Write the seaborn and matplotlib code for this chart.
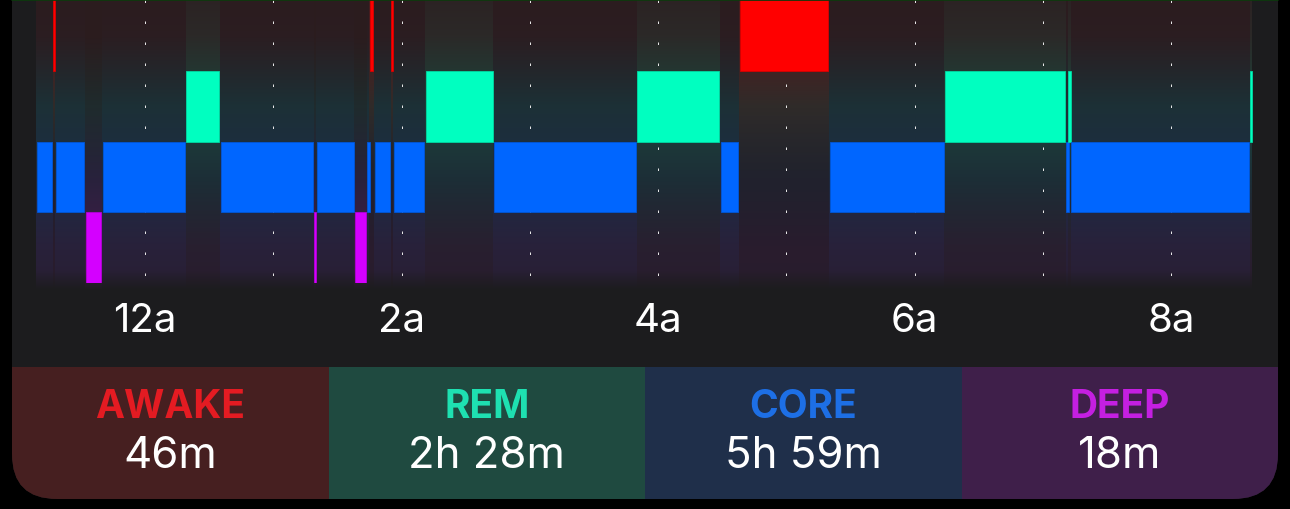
import numpy as np
import pandas as pd
import matplotlib
matplotlib.use("Agg")
import matplotlib.pyplot as plt
import seaborn as sns
from matplotlib.patches import FancyBboxPatch, Rectangle
from matplotlib.colors import to_rgb

# ---------------- data ----------------
stages = ["Awake", "REM", "Core", "Deep"]
stage_colors = ["#ff0000", "#00ffc0", "#0066ff", "#d400ff"]

seg_stage = ["Core", "Awake", "Core", "Deep", "Core", "REM", "Core", "Deep", "Core",
             "Deep", "Core", "Awake", "Core", "Awake", "Core", "REM", "Core", "REM",
             "Core", "Awake", "Core", "REM", "Core", "REM", "Core", "REM"]
seg_start = ["23:09", "23:17", "23:18", "23:32", "23:40", "00:19", "00:35", "01:19", "01:20",
             "01:38", "01:44", "01:45", "01:47", "01:55", "01:56", "02:11", "02:43", "03:50",
             "04:29", "04:38", "05:20", "06:14", "07:11", "07:12", "07:13", "08:37"]
seg_end = ["23:17", "23:18", "23:32", "23:40", "00:19", "00:35", "01:19", "01:20", "01:38",
           "01:44", "01:45", "01:47", "01:55", "01:56", "02:11", "02:43", "03:50", "04:29",
           "04:38", "05:20", "06:14", "07:11", "07:12", "07:13", "08:37", "08:38"]

grid_hours = [0, 1, 2, 3, 4, 5, 6, 7, 8]
tick_hours = [0, 2, 4, 6, 8]
tick_labels = ["12a", "2a", "4a", "6a", "8a"]

summary_names = ["AWAKE", "REM", "CORE", "DEEP"]
summary_values = ["46m", "2h 28m", "5h 59m", "18m"]
summary_text_colors = ["#e41b22", "#1ee0b1", "#1d6fe5", "#c41fe1"]
summary_box_colors = ["#461f20", "#1f4a40", "#1f2f4a", "#3f1f4a"]


def to_min(s):
    h, m = map(int, s.split(":"))
    if h >= 12:
        h -= 24
    return h * 60 + m


df = pd.DataFrame({"stage": seg_stage,
                   "start": [to_min(s) for s in seg_start],
                   "end": [to_min(s) for s in seg_end]})
df["lane"] = df["stage"].map({s: i for i, s in enumerate(stages)})

# ---------------- style ----------------
sns.set_theme(style="dark", rc={"axes.facecolor": "none", "figure.facecolor": "black"})
plt.rcParams["font.family"] = ["Inter", "DejaVu Sans"]

W_PX, H_PX = 1290, 509
X0, X1 = 12, 1278
LANE_PX = 70.75
CHART_H = 4 * LANE_PX
PX_PER_MIN = 128.25 / 60.0
ZERO_PX = 145.0
XMIN = (X0 - ZERO_PX) / PX_PER_MIN
XMAX = (X1 - ZERO_PX) / PX_PER_MIN

fig = plt.figure(figsize=(W_PX / 100, H_PX / 100), dpi=100, facecolor="black")

# background / panel axes in pixel coordinates
bg = fig.add_axes([0, 0, 1, 1])
bg.set_xlim(0, W_PX)
bg.set_ylim(H_PX, 0)
bg.axis("off")

panel = FancyBboxPatch((X0, -100), X1 - X0, 599, boxstyle="round,pad=0,rounding_size=45",
                       fc="#1c1c1e", ec="none", zorder=0)
bg.add_patch(panel)

box_w = (X1 - X0) / 4
for i in range(4):
    r = Rectangle((X0 + i * box_w, 367), box_w, 140, fc=summary_box_colors[i], ec="none", zorder=1)
    bg.add_patch(r)
    r.set_clip_path(panel)
    cx = X0 + (i + 0.5) * box_w
    bg.text(cx, 417.5, summary_names[i], color=summary_text_colors[i], fontsize=28,
            fontweight="bold", ha="center", va="baseline", zorder=2)
    bg.text(cx, 468.5, summary_values[i], color="white", fontsize=31.5,
            ha="center", va="baseline", zorder=2)

# hypnogram axes
ax = fig.add_axes([X0 / W_PX, 1 - CHART_H / H_PX, (X1 - X0) / W_PX, CHART_H / H_PX])
ax.set_facecolor("none")

# background tint image
Wimg, Himg = X1 - X0, 292
tcol = XMIN + (np.arange(Wimg) + 0.5) / Wimg * (XMAX - XMIN)
ys = np.arange(Himg) + 0.5
centers = (np.arange(4) + 0.5) * LANE_PX
cols = np.array([to_rgb(c) for c in stage_colors])
G = np.stack([np.interp(ys, centers, cols[:, c]) for c in range(3)], -1)
base = np.array(to_rgb("#1c1c1e"))
own_alpha = [0.12, 0.08, 0.08, 0.09]
img = np.tile(base, (Himg, Wimg, 1))
fade = np.clip((290 - ys) / 20, 0, 1)[:, None]
for _, row in df.iterrows():
    mask = (tcol >= row["start"]) & (tcol < row["end"])
    if not mask.any():
        continue
    s = row["lane"]
    own = cols[s][None, :] * own_alpha[s] * np.exp(-((ys - centers[s]) / 105.0) ** 2)[:, None]
    tint = (0.06 * G + own) * fade
    img[:, mask, :] = (base[None, :] + tint)[:, None, :]
img = np.clip(img, 0, 1)
ax.imshow(img, extent=(XMIN, XMAX, Himg / LANE_PX, 0), aspect="auto", origin="upper",
          interpolation="nearest", clip_on=False, zorder=0)

# dotted hour grid
for h in grid_hours:
    ax.plot([h * 60, h * 60], [0.0, 3.93], color="#e8e8e8", lw=0.72,
            dashes=(2.5, 18.5), solid_capstyle="butt", zorder=1)

# stage bars
gap = 0.4
for _, row in df.iterrows():
    s = row["lane"]
    mid = (row["start"] + row["end"]) / 2
    w = max(row["end"] - row["start"] - 2 * gap, 1.25)
    c = np.array(to_rgb(stage_colors[s]))
    ax.barh(y=s + 0.5, width=w, left=mid - w / 2, height=1.0, color=c,
            edgecolor=c * 0.85, linewidth=0.6, zorder=3)

# top line
ax.plot([XMIN, XMAX], [0.0, 0.0], color="#0b3b0b", lw=1.2, clip_on=False, zorder=5)

ax.set_xlim(XMIN, XMAX)
ax.set_ylim(4, 0)
ax.set_yticks([])
ax.set_xticks([h * 60 for h in tick_hours])
ax.set_xticklabels(tick_labels)
ax.tick_params(axis="x", length=0, pad=35, labelsize=29, labelcolor="white")
for lab in ax.get_xticklabels():
    lab.set_va("baseline")
ax.grid(False)
sns.despine(ax=ax, left=True, bottom=True)

fig.savefig("out.png", dpi=100, facecolor="black")
